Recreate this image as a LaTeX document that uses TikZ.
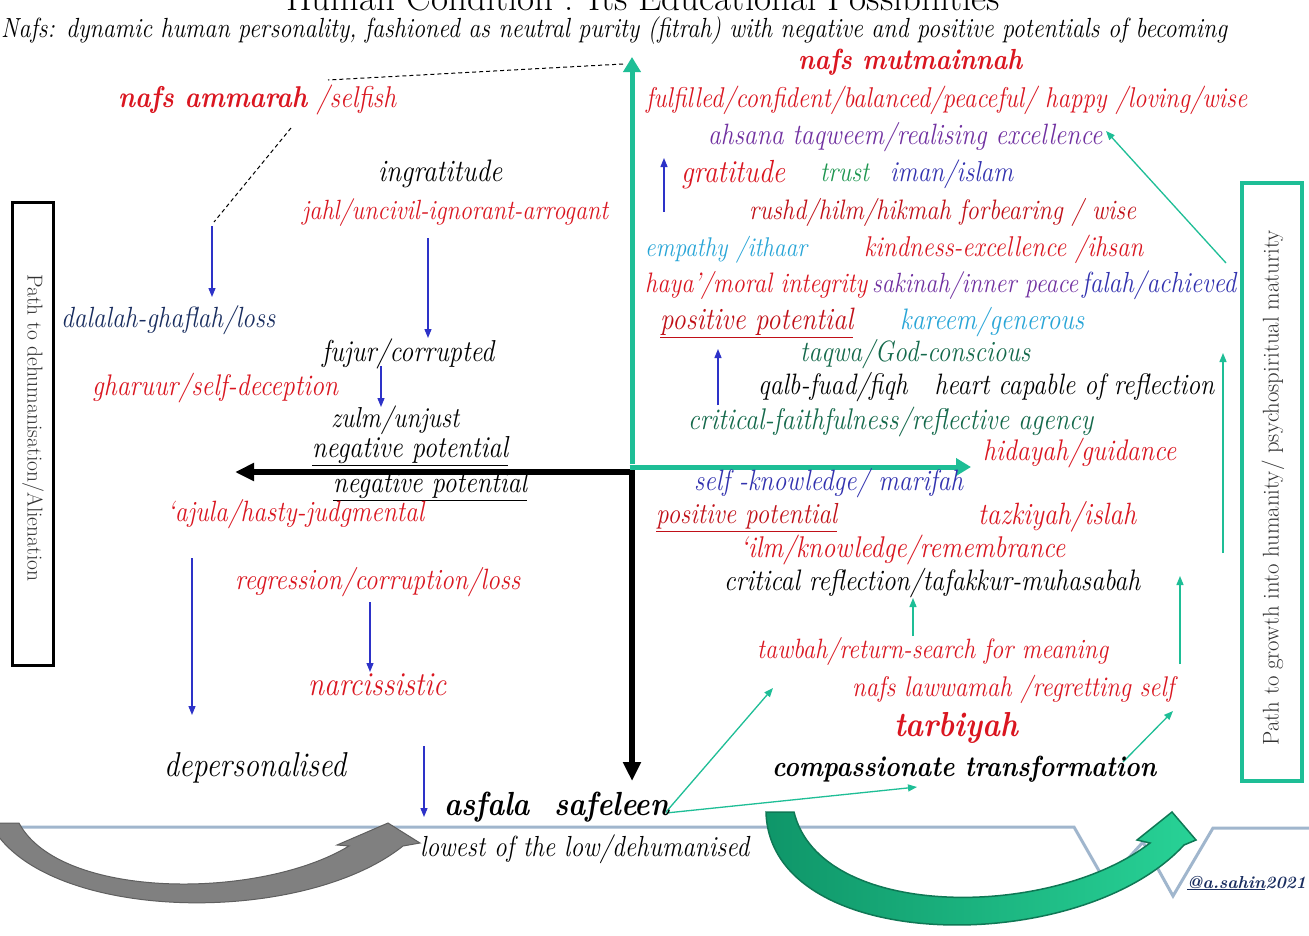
\documentclass[tikz,border=0pt]{standalone}
\usepackage{fontspec}
\usepackage{graphicx}
\usetikzlibrary{arrows.meta}
\definecolor{cred}{RGB}{218,22,32}
\definecolor{cdred}{RGB}{192,16,24}
\definecolor{cpurp}{RGB}{112,48,160}
\definecolor{cblue}{RGB}{50,50,175}
\definecolor{cnavy}{RGB}{25,45,95}
\definecolor{cltblue}{RGB}{40,165,215}
\definecolor{cgreen}{RGB}{30,150,80}
\definecolor{cdgreen}{RGB}{20,105,75}
\definecolor{cteal}{RGB}{30,190,150}
\definecolor{carrow}{RGB}{45,50,200}
\definecolor{cboxtxt}{RGB}{50,50,50}
\definecolor{cline}{RGB}{160,182,205}
\definecolor{cgray}{RGB}{128,128,128}
\definecolor{cgrayedge}{RGB}{95,95,95}
\definecolor{cgreenfill}{RGB}{40,210,150}
\definecolor{cgreendark}{RGB}{15,150,105}
\definecolor{cgreenedge}{RGB}{15,120,85}
\newcommand\fitw[2]{\scalebox{1}[1.15]{\resizebox{#1pt}{!}{#2}}}
\newcommand\fitb[2]{\resizebox{#1pt}{!}{#2}}
\newcommand\lsp[1]{{\addfontfeatures{LetterSpace=6}#1}}
\begin{document}
\begin{tikzpicture}[x=1pt,y=-1pt,
  lbl/.style={anchor=west,inner sep=0pt,font=\fontsize{22}{26}\selectfont\itshape},
  bluearr/.style={draw=carrow,line width=1.3pt,-{Triangle[length=9pt,width=7pt]}},
  tealarr/.style={draw=cteal,line width=1.3pt,-{Triangle[length=9pt,width=7pt]}},
  thickblk/.style={draw=black,line width=5.5pt,-{Triangle[length=19pt,width=17pt]}},
  thickteal/.style={draw=cteal,line width=5pt,-{Triangle[length=15pt,width=17pt]}},
  dashln/.style={draw=black,line width=1pt,dash pattern=on 4pt off 3pt},
  boxtxt/.style={inner sep=0pt,font=\fontsize{17}{20}\selectfont,text=cboxtxt},
]
\useasboundingbox (0,0) rectangle (1309,935);
\fill[white] (0,0) rectangle (1309,935);

% ---------- bottom base line and W ----------
\draw[cline,line width=3pt,line join=miter] (0,827) -- (1074,827) -- (1106,883) -- (1143,842) -- (1173,896) -- (1213,828) -- (1309,828);

% ---------- gray curved arrow ----------
\path[draw=cgrayedge,fill=cgray,line width=1pt]
  (19,823) .. controls (60,900) and (260,900) .. (349,846) -- (337,845) -- (388,823) -- (420,843) -- (403,846)
  .. controls (300,928) and (40,922) .. (-10,823) -- cycle;

% ---------- green curved arrow ----------
\path[draw=cgreenedge,line width=1.5pt,left color=cgreendark,right color=cgreenfill]
  (794,812) .. controls (820,920) and (1050,920) .. (1150,843) -- (1137,840) -- (1172,812) -- (1196,840) -- (1184,845)
  .. controls (1080,958) and (770,955) .. (766,812) -- cycle;

% ---------- boxes ----------
\node[draw=black,line width=3pt,minimum width=41pt,minimum height=463pt,inner sep=0pt] (leftbox) at (32.5,433.5) {};
\node[boxtxt,rotate=-90] (lefttxt) at (33,428) {\fitb{307}{Path to dehumanisation/Alienation}};
\node[draw=cteal,line width=4pt,minimum width=60pt,minimum height=598pt,inner sep=0pt] (rightbox) at (1271.5,482) {};
\node[boxtxt,rotate=90] (righttxt) at (1273,488) {\fitb{515}{Path to growth into humanity/ psychospiritual maturity}};

% ---------- coordinates ----------
\coordinate (dt1) at (623,64);  \coordinate (dt2) at (328,80);
\coordinate (dl1) at (291,128); \coordinate (dl2) at (214,222);
\coordinate (a1s) at (212,226); \coordinate (a1e) at (212,297);
\coordinate (a2s) at (428,238); \coordinate (a2e) at (428,338);
\coordinate (a3s) at (381,366); \coordinate (a3e) at (381,407);
\coordinate (a4s) at (192,558); \coordinate (a4e) at (192,715);
\coordinate (a5s) at (370,602); \coordinate (a5e) at (370,672);
\coordinate (a6s) at (424,746); \coordinate (a6e) at (424,817);
\coordinate (o) at (632,472);
\coordinate (og) at (632,467);
\coordinate (blkL) at (235,472);
\coordinate (blkD) at (632,781);
\coordinate (grU) at (632,57);
\coordinate (grR) at (971,467);
\coordinate (b1s) at (664,212); \coordinate (b1e) at (664,158);
\coordinate (b2s) at (718,405); \coordinate (b2e) at (718,349);
\coordinate (t1s) at (1226,263); \coordinate (t1e) at (1106,131);
\coordinate (t2s) at (1223,553); \coordinate (t2e) at (1223,353);
\coordinate (t3s) at (913,636); \coordinate (t3e) at (913,598);
\coordinate (t4s) at (1180,664); \coordinate (t4e) at (1180,576);
\coordinate (t5s) at (666,812); \coordinate (t5e) at (773,688);
\coordinate (t6s) at (666,813); \coordinate (t6e) at (917,787);
\coordinate (t7s) at (1123,762); \coordinate (t7e) at (1173,711);

% ---------- lines & arrows ----------
\draw[dashln] (dt1) -- (dt2);
\draw[dashln] (dl1) -- (dl2);
\draw[bluearr] (a1s) -- (a1e);
\draw[bluearr] (a2s) -- (a2e);
\draw[bluearr] (a3s) -- (a3e);
\draw[bluearr] (a4s) -- (a4e);
\draw[bluearr] (a5s) -- (a5e);
\draw[bluearr] (a6s) -- (a6e);
\draw[thickblk] ([xshift=3pt]o) -- (blkL);
\draw[thickblk] ([yshift=-3pt]o) -- (blkD);
\draw[thickteal] ([yshift=3pt]og) -- (grU);
\draw[thickteal] ([xshift=-2.5pt]og) -- (grR);
\draw[bluearr] (b1s) -- (b1e);
\draw[bluearr] (b2s) -- (b2e);
\draw[tealarr] (t1s) -- (t1e);
\draw[tealarr] (t2s) -- (t2e);
\draw[tealarr] (t3s) -- (t3e);
\draw[tealarr] (t4s) -- (t4e);
\draw[tealarr] (t5s) -- (t5e);
\draw[tealarr] (t6s) -- (t6e);
\draw[tealarr] (t7s) -- (t7e);

% ---------- title ----------
\node[anchor=base west,inner sep=0pt,font=\fontsize{30}{36}\selectfont] (title) at (286,10) {\fitb{714}{Human Condition : Its Educational Possibilities}};
\node[lbl] (sub) at (1,31) {\fitw{1226}{\strut Nafs: dynamic human personality, fashioned as neutral purity (fitrah) with negative and positive potentials of becoming}};

% ---------- left side texts ----------
\node[lbl,text=cred] (ammarah) at (118,100) {\fitw{278}{\strut\textbf{\lsp{nafs ammarah}} /selfish}};
\node[lbl] (ingrat) at (378,174) {\fitw{124}{\strut ingratitude}};
\node[lbl,text=cred] (jahl) at (302,213) {\fitw{306}{\strut jahl/uncivil-ignorant-arrogant}};
\node[lbl,text=cnavy] (dalalah) at (61,321) {\fitw{214}{\strut dalalah-ghaflah/loss}};
\node[lbl] (fujur) at (322,354) {\fitw{172}{\strut fujur/corrupted}};
\node[lbl,text=cred] (gharuur) at (92,388) {\fitw{246}{\strut gharuur/self-deception}};
\node[lbl] (zulm) at (331,421) {\fitw{128}{\strut zulm/unjust}};
\node[lbl] (neg1) at (312,450) {\fitw{196}{\strut\underline{negative potential}}};
\node[lbl] (neg2) at (333,485) {\fitw{194}{\strut\underline{negative potential}}};
\node[lbl,text=cred] (ajula) at (167,515) {\fitw{257}{\strut ‘ajula/hasty-judgmental}};
\node[lbl,text=cred] (regr) at (235,583) {\fitw{285}{\strut regression/corruption/loss}};
\node[lbl,text=cred] (narc) at (308,688) {\fitw{138}{\strut narcissistic}};
\node[lbl] (deper) at (164,768) {\fitw{182}{\strut depersonalised}};
\node[lbl] (asfala) at (444,808) {\fitw{225}{\strut\textbf{\lsp{asfala\ \ safeleen}}}};
\node[lbl] (lowest) at (420,850) {\fitw{329}{\strut lowest of the low/dehumanised}};

% ---------- right side texts ----------
\node[lbl,text=cred] (mutma) at (798,63) {\fitw{224}{\strut\textbf{\lsp{nafs mutmainnah}}}};
\node[lbl,text=cred] (fulf) at (646,101) {\fitw{601}{\strut fulfilled/confident/balanced/peaceful/ happy /loving/wise}};
\node[lbl,text=cpurp] (ahsana) at (708,138) {\fitw{394}{\strut ahsana taqweem/realising excellence}};
\node[lbl,text=cred] (grat) at (681,175) {\fitw{104}{\strut gratitude}};
\node[lbl,text=cgreen] (trust) at (820,175) {\fitw{49}{\strut trust}};
\node[lbl,text=cblue] (iman) at (890,175) {\fitw{123}{\strut iman/islam}};
\node[lbl,text=cdred] (rushd) at (749,213) {\fitw{387}{\strut rushd/hilm/hikmah forbearing / wise}};
\node[lbl,text=cltblue] (empathy) at (645,250) {\fitw{162}{\strut empathy /ithaar}};
\node[lbl,text=cred] (kind) at (864,250) {\fitw{279}{\strut kindness-excellence /ihsan}};
\node[lbl,text=cred] (haya) at (645,286) {\fitw{222}{\strut haya’/moral integrity}};
\node[lbl,text=cpurp] (sakinah) at (872,286) {\fitw{206}{\strut sakinah/inner peace}};
\node[lbl,text=cblue] (falah) at (1082,286) {\fitw{154}{\strut falah/achieved}};
\node[lbl,text=cdred] (pos1) at (660,322) {\fitw{193}{\strut\underline{positive potential}}};
\node[lbl,text=cltblue] (kareem) at (900,322) {\fitw{184}{\strut kareem/generous}};
\node[lbl,text=cdgreen] (taqwa) at (800,355) {\fitw{230}{\strut taqwa/God-conscious}};
\node[lbl] (qalb) at (758,388) {\fitw{456}{\strut qalb-fuad/fiqh\ \ \ heart capable of reflection}};
\node[lbl,text=cdgreen] (critf) at (688,422) {\fitw{405}{\strut critical-faithfulness/reflective agency}};
\node[lbl,text=cred] (hidayah) at (983,453) {\fitw{193}{\strut hidayah/guidance}};
\node[lbl,text=cblue] (selfk) at (694,484) {\fitw{269}{\strut self -knowledge/ marifah}};
\node[lbl,text=cdred] (pos2) at (656,517) {\fitw{181}{\strut\underline{positive potential}}};
\node[lbl,text=cred] (tazk) at (978,517) {\fitw{158}{\strut tazkiyah/islah}};
\node[lbl,text=cred] (ilm) at (740,550) {\fitw{325}{\strut ‘ilm/knowledge/remembrance}};
\node[lbl] (critr) at (724,583) {\fitw{416}{\strut critical reflection/tafakkur-muhasabah}};
\node[lbl,text=cred] (tawbah) at (757,652) {\fitw{351}{\strut tawbah/return-search for meaning}};
\node[lbl,text=cred] (lawwamah) at (852,690) {\fitw{322}{\strut nafs lawwamah /regretting self}};
\node[lbl,text=cred] (tarb) at (894,728) {\fitw{124}{\strut\textbf{\lsp{tarbiyah}}}};
\node[lbl] (compas) at (772,770) {\fitw{384}{\strut\textbf{\lsp{compassionate transformation}}}};
\node[lbl,text=cnavy] (sahin) at (1187,884) {\fitb{119}{\strut\textbf{\lsp{\underline{@a.sahin}2021}}}};
\end{tikzpicture}
\end{document}
